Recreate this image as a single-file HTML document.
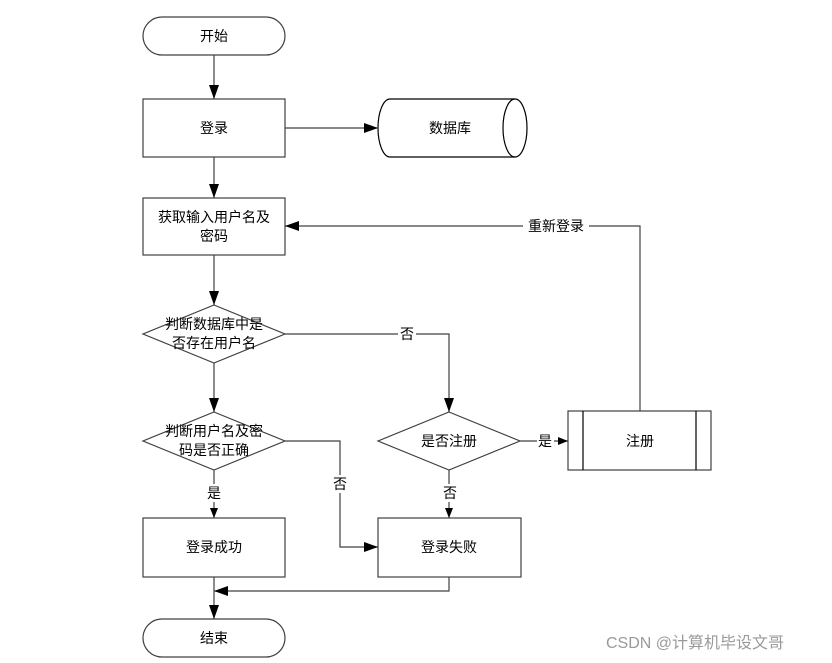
<!DOCTYPE html>
<html><head><meta charset="utf-8"><style>
html,body{margin:0;padding:0;background:#fff;}
svg{display:block;}
text{font-family:"Liberation Sans","Noto Sans CJK SC",sans-serif;font-size:14px;fill:#000;}
</style></head><body>
<svg width="832" height="663" viewBox="0 0 832 663" xmlns="http://www.w3.org/2000/svg">
<defs>
<marker id="a" viewBox="0 0 14 10" refX="14" refY="5" markerWidth="14" markerHeight="10" markerUnits="userSpaceOnUse" orient="auto"><path d="M0,0L14,5L0,10z" fill="#000"/></marker>
<marker id="b" viewBox="0 0 10 8" refX="10" refY="4" markerWidth="10" markerHeight="8" markerUnits="userSpaceOnUse" orient="auto"><path d="M0,0L10,4L0,8z" fill="#000"/></marker>
</defs>
<g fill="#fff" stroke="#404040" stroke-width="1.2">
<rect x="143" y="17" width="142" height="38" rx="19"/>
<rect x="143" y="99" width="142" height="58"/>
<path d="M390,99H515A12,29 0 0 1 515,157H390A12,29 0 0 1 390,99Z" stroke="#000"/>
<path d="M515,99A12,29 0 0 0 515,157" fill="none" stroke="#000"/>
<rect x="143" y="198" width="142" height="57"/>
<path d="M214,305L285,334L214,363L143,334Z"/>
<path d="M214,412L285,441L214,470L143,441Z"/>
<path d="M449,412L520,441L449,470L378,441Z"/>
<rect x="568" y="411" width="143" height="59"/>
<line x1="583" y1="411" x2="583" y2="470" stroke="#000"/>
<line x1="696" y1="411" x2="696" y2="470" stroke="#000"/>
<rect x="143" y="518" width="142" height="59"/>
<rect x="378" y="518" width="143" height="59"/>
<rect x="143" y="619" width="142" height="38" rx="19"/>
</g>
<g fill="none" stroke="#404040" stroke-width="1.2">
<line x1="214" y1="55" x2="214" y2="99" marker-end="url(#a)"/>
<line x1="285" y1="128" x2="378" y2="128" marker-end="url(#a)"/>
<line x1="214" y1="157" x2="214" y2="198" marker-end="url(#a)"/>
<line x1="214" y1="255" x2="214" y2="305" marker-end="url(#a)"/>
<polyline points="285,334 449,334 449,412" marker-end="url(#a)"/>
<line x1="214" y1="363" x2="214" y2="412" marker-end="url(#a)"/>
<polyline points="285,441 340,441 340,547 378,547" marker-end="url(#a)"/>
<line x1="214" y1="470" x2="214" y2="518" marker-end="url(#b)"/>
<line x1="520" y1="441" x2="568" y2="441" marker-end="url(#b)"/>
<line x1="449" y1="470" x2="449" y2="518" marker-end="url(#b)"/>
<polyline points="640,411 640,226 285,226" marker-end="url(#a)"/>
<polyline points="449,577 449,591 214,591" marker-end="url(#a)"/>
<line x1="214" y1="577" x2="214" y2="619" marker-end="url(#a)"/>
</g>
<g fill="#fff">
<rect x="398" y="325" width="18" height="18"/>
<rect x="205" y="484" width="18" height="18"/>
<rect x="331" y="475" width="18" height="18"/>
<rect x="537" y="432" width="17" height="18"/>
<rect x="441" y="484" width="18" height="18"/>
<rect x="523" y="217" width="66" height="18"/>
</g>
<g text-anchor="middle">
<text x="214" y="41">开始</text>
<text x="214" y="133">登录</text>
<text x="450" y="133">数据库</text>
<text x="214" y="222">获取输入用户名及</text>
<text x="214" y="241">密码</text>
<text x="214" y="329">判断数据库中是</text>
<text x="214" y="348">否存在用户名</text>
<text x="214" y="436">判断用户名及密</text>
<text x="214" y="455">码是否正确</text>
<text x="449" y="446">是否注册</text>
<text x="640" y="446">注册</text>
<text x="214" y="552">登录成功</text>
<text x="449" y="552">登录失败</text>
<text x="214" y="643">结束</text>
<text x="407" y="339">否</text>
<text x="214" y="498">是</text>
<text x="340" y="489">否</text>
<text x="545" y="446">是</text>
<text x="450" y="498">否</text>
<text x="556" y="231">重新登录</text>
</g>
<text x="606" y="648" style="font-size:16px;fill:#9a9a9a">CSDN @计算机毕设文哥</text>
</svg>
</body></html>
